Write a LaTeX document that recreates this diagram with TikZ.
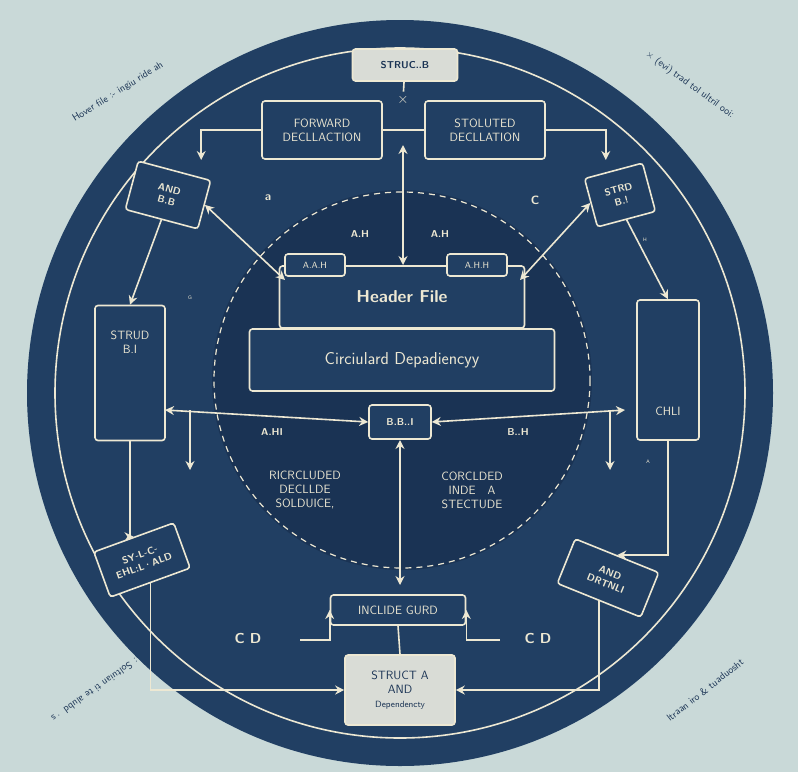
\documentclass[tikz,border=0pt]{standalone}
\usepackage{fontspec}
\setmainfont{Liberation Sans}
\usetikzlibrary{arrows.meta,calc}
\definecolor{bg}{HTML}{C9D9D8}
\definecolor{navy}{HTML}{213F63}
\definecolor{deep}{HTML}{1A3354}
\definecolor{cream}{HTML}{EDE8D3}
\definecolor{pale}{HTML}{D9DCD6}
\tikzset{
 box/.style={draw=cream,line width=1.6pt,fill=navy,rounded corners=3pt,text=cream,align=center,font=\sffamily\bfseries},
 lbox/.style={box,fill=pale,text=deep},
 ln/.style={draw=cream,line width=1.6pt},
 ar/.style={ln,-{Stealth[length=9pt,width=9pt]}},
 dar/.style={ln,{Stealth[length=9pt,width=9pt]}-{Stealth[length=9pt,width=9pt]}},
 lab/.style={text=cream,font=\sffamily\bfseries},
 outer/.style={text=deep,font=\sffamily}
}
\begin{document}
\begin{tikzpicture}[x=1pt,y=-1pt]
\fill[bg] (0,0) rectangle (798,772);
\useasboundingbox (0,0) rectangle (798,772);
\fill[navy] (400,393) circle (373);
\fill[deep] (402,380) circle (190);
\draw[cream,line width=1.2pt,dash pattern=on 6pt off 5pt] (402,380) circle (188);
\draw[ln] (400,393) circle (345);
% top boxes
\node[lbox,minimum width=105,minimum height=32] (sb) at (405,65) {STRUC..B};
\node[box,minimum width=120,minimum height=58,font=\sffamily\large] (fd) at (322,130) {FORWARD\\DECLLACTION};
\node[box,minimum width=120,minimum height=58,font=\sffamily\large] (sd) at (485,130) {STOLUTED\\DECLLATION};
\node[lab,font=\sffamily\bfseries\Large] (x) at (403,100) {$\times$};
\draw[ln] (sb) -- (x);
\node[box,minimum width=75,minimum height=50,rotate=-15] (ab) at (168,195) {AND\\B.B};
\node[box,minimum width=60,minimum height=50,rotate=15] (st) at (620,195) {STRD\\B.!};
\node[lab,font=\sffamily\bfseries\large] (la) at (268,198) {a};
\node[lab,font=\sffamily\bfseries\large] (lc) at (535,200) {C};
\node[lab] (ah1) at (360,234) {A.H};
\node[lab] (ah2) at (440,234) {A.H};
% header
\node[box,minimum width=245,minimum height=62,font=\sffamily\bfseries\LARGE] (hf) at (402,297) {Header File};
\node[box,minimum width=60,minimum height=22,font=\sffamily\small] (t1) at (315,265) {A.A.H};
\node[box,minimum width=60,minimum height=22,font=\sffamily\small] (t2) at (477,265) {A.H.H};
\node[box,minimum width=305,minimum height=62,font=\sffamily\LARGE] (cd) at (402,360) {Circiulard Depadiencyy};
\node[box,minimum width=62,minimum height=34] (bb) at (400,422) {B.B..I};
\node[lab] (ahi) at (272,432) {A.HI};
\node[lab] (bh) at (518,432) {B..H};
\node[lab,font=\sffamily\large,align=center] (r1) at (305,490) {RICRCLUDED\\DECLLDE\\SOLDUICE,};
\node[lab,font=\sffamily\large,align=center] (r2) at (472,490) {CORCLDED\\INDE\quad A\\STECTUDE};
% side boxes
\node[box,minimum width=70,minimum height=135,font=\sffamily\large] (lb) at (130,373) {STRUD\\B.I\\[4em]\phantom{x}};
\node[box,minimum width=62,minimum height=140,font=\sffamily\large] (rb) at (668,370) {\phantom{x}\\[6em]CHLI};
\node[box,minimum width=85,minimum height=48,rotate=20] (bl) at (142,560) {SY-L-C-\\EHL:L·ALD};
\node[box,minimum width=90,minimum height=48,rotate=-22] (br) at (608,578) {AND\\DRTNLI};
% bottom
\node[box,minimum width=135,minimum height=30,font=\sffamily\large] (ig) at (398,610) {INCLIDE GURD};
\node[lbox,minimum width=110,minimum height=70,font=\sffamily\large] (sa) at (400,690) {STRUCT A\\AND\\{\small Dependencty}};
\node[lab,font=\sffamily\bfseries\Large] (c1) at (248,638) {C D};
\node[lab,font=\sffamily\bfseries\Large] (c2) at (538,638) {C D};
\node[lab,font=\tiny] (sg) at (190,298) {G};
\node[lab,font=\tiny] (sh) at (645,240) {H};
\node[lab,font=\tiny] (sa2) at (648,462) {A};
% connectors
\draw[ln] (fd.east) -- (sd.west);
\draw[dar] (403,145) -- (403,265);
\draw[dar] (400,440) -- (400,585);
\draw[dar] (ab.east) -- (285,280);
\draw[dar] (st.west) -- (520,280);
\draw[dar] (165,410) -- (bb.west);
\draw[dar] (bb.east) -- (625,410);
\draw[ar] (fd.west) -- ++(-60,0) -- ++(0,30);
\draw[ar] (sd.east) -- ++(60,0) -- ++(0,30);
\draw[ln] (ig.south) -- (sa.north);
\draw[ar] (300,640) -| (ig.west);
\draw[ar] (500,640) -| (ig.east);
\draw[ar] (bl.south) |- (sa.west);
\draw[ar] (br.south) |- (sa.east);
\draw[ar] (lb.south) |- (bl.north);
\draw[ar] (rb.south) |- (br.north);
\draw[ar] (ab.south) -- (lb.north);
\draw[ar] (st.south) -- (rb.north);
\draw[ar] (190,410) -- (190,470);
\draw[ar] (610,410) -- (610,470);
% outer text
\node[outer,rotate=32] (o1) at (118,92) {Hover file :- ingiu ride ah};
\node[outer,rotate=-36] (o2) at (690,85) {$\times$ (evi) trad tol ultril ooi:};
\node[outer,rotate=215] (o3) at (95,690) {: Soltuian ti te alubd ·s};
\node[outer,rotate=38] (o4) at (705,690) {ltraan iro \& tuaduosht};
\end{tikzpicture}
\end{document}
